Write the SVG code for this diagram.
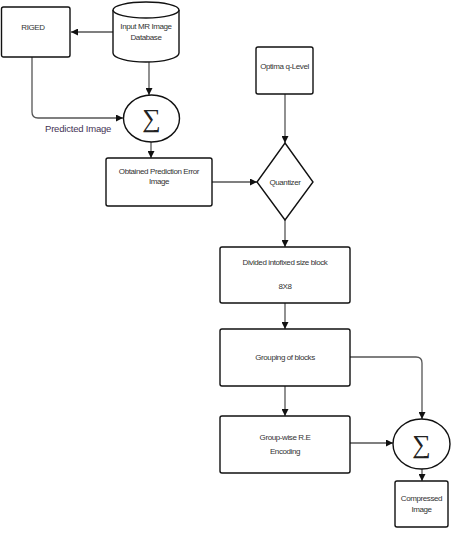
<svg xmlns="http://www.w3.org/2000/svg" width="474" height="552" viewBox="0 0 474 552">
<style>
.box{fill:#fff;stroke:#111;stroke-width:1.4}
.ln{fill:none;stroke:#555;stroke-width:1.3}
.t{font-family:"Liberation Sans",Arial,sans-serif;font-size:8px;fill:#333;text-anchor:middle;letter-spacing:-0.4px}
.sig{font-family:"Liberation Serif","Times New Roman",serif;font-size:26px;fill:#222;text-anchor:middle}
</style>
<defs>
<marker id="ah" viewBox="0 0 10 10" refX="10" refY="5" markerWidth="7" markerHeight="7" markerUnits="userSpaceOnUse" orient="auto">
<path d="M0,0 L10,5 L0,10 z" fill="#111"/>
</marker>
</defs>
<rect width="474" height="552" fill="#fff"/>
<g id="connectors">
<path class="ln" marker-end="url(#ah)" d="M113,32 H71"/>
<path class="ln" marker-end="url(#ah)" d="M149,62 V95"/>
<path class="ln" marker-end="url(#ah)" d="M32,57 V112 Q32,118 38,118 H123"/>
<path class="ln" marker-end="url(#ah)" d="M151,142 V158"/>
<path class="ln" marker-end="url(#ah)" d="M212,182 H257"/>
<path class="ln" marker-end="url(#ah)" d="M285,94 V143"/>
<path class="ln" marker-end="url(#ah)" d="M285,220 V247"/>
<path class="ln" marker-end="url(#ah)" d="M285,303 V329"/>
<path class="ln" marker-end="url(#ah)" d="M350,357 H416 Q422,357 422,363 V419"/>
<path class="ln" marker-end="url(#ah)" d="M285,386 V416"/>
<path class="ln" marker-end="url(#ah)" d="M350,443 H393"/>
<path class="ln" marker-end="url(#ah)" d="M422,469 V481"/>
</g>
<g id="riged">
<rect class="box" x="1.5" y="7" width="68.5" height="50" rx="2"/>
<text class="t" x="33" y="30">RIGED</text>
</g>
<g id="database">
<path class="box" d="M113,10 V53 A33,9 0 0 0 179,53 V10"/>
<ellipse class="box" cx="146" cy="10" rx="33" ry="8"/>
<text class="t" x="146" y="29">Input MR Image</text>
<text class="t" x="146" y="40">Database</text>
</g>
<g id="sum1">
<ellipse class="box" cx="151.5" cy="118.5" rx="28" ry="23.5"/>
<text class="sig" x="151.5" y="127">∑</text>
</g>
<g id="predicted-label">
<text x="45" y="132" style="font-family:'Liberation Sans',Arial,sans-serif;font-size:9.5px;fill:#443355;letter-spacing:-0.2px">Predicted Image</text>
</g>
<g id="error">
<rect class="box" x="106" y="158" width="106" height="48" rx="2"/>
<text class="t" x="159" y="174">Obtained Prediction Error</text>
<text class="t" x="159" y="184">Image</text>
</g>
<g id="qlevel">
<rect class="box" x="256" y="47" width="57" height="47" rx="2"/>
<text class="t" x="284.5" y="69">Optima q-Level</text>
</g>
<g id="quantizer">
<path class="box" d="M285,143 L313,182 L285,220 L257,182 Z"/>
<text class="t" x="285" y="184.5">Quantizer</text>
</g>
<g id="divided">
<rect class="box" x="220" y="247" width="130" height="56" rx="2"/>
<text class="t" x="285" y="265">Divided intofixed size block</text>
<text class="t" x="285" y="289">8X8</text>
</g>
<g id="grouping">
<rect class="box" x="220" y="329" width="130" height="57" rx="2"/>
<text class="t" x="285" y="359.5">Grouping of blocks</text>
</g>
<g id="rle">
<rect class="box" x="220" y="416" width="130" height="57" rx="2"/>
<text class="t" x="285" y="440">Group-wise R.E</text>
<text class="t" x="285" y="454">Encoding</text>
</g>
<g id="sum2">
<ellipse class="box" cx="421.5" cy="444" rx="28.5" ry="25"/>
<text class="sig" x="421.5" y="453">∑</text>
</g>
<g id="compressed">
<rect class="box" x="395" y="481" width="53" height="46" rx="2"/>
<text class="t" x="421.5" y="501">Compressed</text>
<text class="t" x="421.5" y="512">Image</text>
</g>
</svg>
